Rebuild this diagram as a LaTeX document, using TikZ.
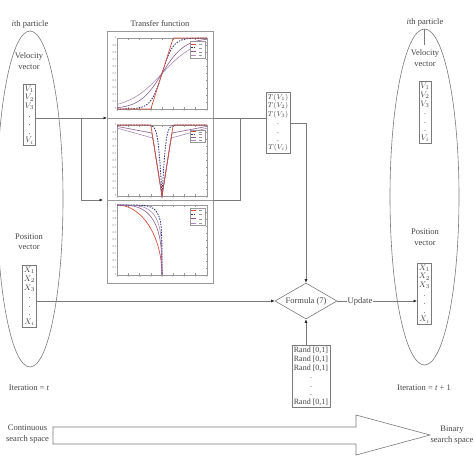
\documentclass[tikz,border=0pt]{standalone}
\usepackage{fontspec}
\setmainfont{Liberation Serif}
\usetikzlibrary{shapes.geometric,arrows.meta}
\definecolor{txtc}{HTML}{454545}
\definecolor{linec}{HTML}{7A7A7A}
\definecolor{framec}{HTML}{9A9A9A}
\definecolor{redc}{HTML}{D4503E}
\definecolor{bluec}{HTML}{2B2F7A}
\definecolor{purc}{HTML}{8A5C8E}
\definecolor{lavc}{HTML}{A98BB8}
\newcommand\tfaxes{%
  \draw[axc] (-8,0) rectangle (8,1);
  \foreach \t in {-8,-6,...,8} {
    \draw[axc] (\t,0) -- ++(0,0.025) (\t,1) -- ++(0,-0.025);
    \node[tick,below] at (\t,0) {\t};}
  \foreach \k/\l in {0/0,1/0.1,2/0.2,3/0.3,4/0.4,5/0.5,6/0.6,7/0.7,8/0.8,9/0.9,10/1} {
    \draw[axc] ({-8},{\k/10}) -- ++(0.15,0) ({8},{\k/10}) -- ++(-0.15,0);
    \node[tick,left] at ({-8},{\k/10}) {\l};}
}
\newcommand\tflegend[2]{%
  \draw[axc,fill=white] (5,#1) rectangle (7.7,#2);
  \foreach \j/\s in {0/rc,1/bc,2/pc,3/lc} {
    \draw[\s] ({5.2},{#1-(\j+0.6)*(#1-#2)/4.2}) -- ++(0.9,0);
    \draw[axc,line width=0.2pt] ({6.6},{#1-(\j+0.6)*(#1-#2)/4.2}) -- ++(0.5,0);}
}
\begin{document}
\begin{tikzpicture}[x=1pt,y=-1pt,
  lbl/.style={font=\fontsize{8.5}{10.5}\selectfont, text=txtc, align=center, inner sep=0pt},
  conn/.style={draw=linec, line width=0.6pt},
  arr/.style={conn, -{Latex[length=3.5pt,width=3pt,color=black!85]}},
  vecbox/.style={draw=linec, line width=0.6pt, text=txtc, align=center, inner sep=1.6pt, font=\fontsize{8}{8.6}\selectfont},
  frame/.style={draw=framec, line width=0.6pt},
  axc/.style={draw=gray!80, line width=0.35pt},
  tick/.style={font=\fontsize{3}{3.4}\selectfont, text=gray, inner sep=0.6pt},
  rc/.style={draw=redc, line width=0.7pt},
  bc/.style={draw=bluec, line width=0.8pt, dash pattern=on 1.5pt off 1.2pt},
  pc/.style={draw=purc, line width=0.6pt},
  lc/.style={draw=lavc, line width=0.6pt}]
\useasboundingbox (0,0) rectangle (474,474);
\fill[white] (0,0) rectangle (474,474);

% ellipses
\draw[conn] (30,199) ellipse [x radius=33pt, y radius=168pt];
\draw[conn] (424.5,197) ellipse [x radius=34.5pt, y radius=168pt];

% left side
\node[lbl] (pL) at (30,24) {\textit{i}th particle};
\node[lbl] (velL) at (29,61) {Velocity\\vector};
\node[vecbox] (VL) at (29.5,115) {$V_1$\\$V_2$\\$V_3$\\.\\.\\.\\$V_i$};
\node[lbl] (posL) at (29,241.5) {Position\\vector};
\node[vecbox] (XL) at (29.5,296.5) {$X_1$\\$X_2$\\$X_3$\\.\\.\\.\\$X_i$};
\node[lbl] (itL) at (29,388) {Iteration = \textit{t}};
\node[lbl] (csL) at (27.5,434) {Continuous\\search space};

% right side
\node[lbl] (pR) at (425,22) {\textit{i}th particle};
\coordinate (topR) at (424.5,29);
\coordinate (tickR) at (424.5,45);
\draw[conn] (topR) -- (tickR);
\node[lbl] (velR) at (425,58) {Velocity\\vector};
\node[vecbox] (VR) at (425,112.5) {$V_1$\\$V_2$\\$V_3$\\.\\.\\.\\$V_i$};
\node[lbl] (posR) at (425,237) {Position\\vector};
\node[vecbox] (XR) at (424.5,294) {$X_1$\\$X_2$\\$X_3$\\.\\.\\.\\$X_i$};
\node[lbl] (itR) at (424,388) {Iteration = \textit{t} + 1};
\node[lbl] (bsR) at (452,435) {Binary\\search space};

% transfer function plots
\node[lbl] (tf) at (160,24) {Transfer function};
\draw[frame] (107,31) rectangle (213,118);
\draw[frame] (107,118) rectangle (213,200);
\draw[frame] (107,200) rectangle (213,283);

\begin{scope}[xshift=162pt, yshift=-109pt, x=5.6pt, y=71pt]
  \tfaxes
  \draw[lc] plot[domain=-8:8, samples=50] (\x, {1/(1+exp(-\x/3))});
  \draw[pc] plot[domain=-8:8, samples=50] (\x, {1/(1+exp(-\x/2))});
  \draw[bc] plot[domain=-8:8, samples=60] (\x, {1/(1+exp(-\x))});
  \draw[rc] (-8,0) -- (-2,0) -- (2,1) -- (8,1);
  \tflegend{0.95}{0.72}
\end{scope}

\begin{scope}[xshift=162pt, yshift=-196pt, x=5.6pt, y=71pt]
  \tfaxes
  \draw[lc] plot[domain=-8:8, samples=81] (\x, {min(abs(\x)/2, 0.78+0.022*abs(\x))});
  \draw[pc] plot[domain=-8:8, samples=81] (\x, {min(abs(\x)/2, 0.86+0.015*abs(\x))});
  \draw[bc] plot[domain=-8:8, samples=81] (\x, {1-2/(1+exp(2.8*min(abs(\x),3)))});
  \draw[rc] (-8,1) -- (-2,1) -- (0,0) -- (2,1) -- (8,1);
  \tflegend{0.93}{0.76}
\end{scope}

\begin{scope}[xshift=162pt, yshift=-275pt, x=5.6pt, y=70pt]
  \tfaxes
  \draw[rc] plot[domain=-8:-0.02, samples=60] (\x, {sqrt(1-((\x+8)/8)^2)}) -- (0,0);
  \draw[pc] plot[domain=-8:-0.02, samples=60] (\x, {pow(1-pow((\x+8)/8,3),1/3)}) -- (0,0);
  \draw[lc] plot[domain=-8:-0.02, samples=60] (\x, {pow(1-pow((\x+8)/8,4),1/4)}) -- (0,0);
  \draw[bc] plot[domain=-8:-0.02, samples=60] (\x, {pow(1-pow((\x+8)/8,6),1/6)}) -- (0,0);
  \tflegend{0.96}{0.71}
\end{scope}

% connectors to/from plots
\coordinate (a1) at (107,118);
\coordinate (b1) at (81,118);
\coordinate (a2) at (103,200);
\draw[arr] (VL.east |- a1) -- (a1);
\draw[arr] (b1) |- (a2);

\node[vecbox, font=\fontsize{7.5}{8.4}\selectfont] (TV) at (278,123)
  {$T(V_1)$\\$T(V_2)$\\$T(V_3)$\\.\\.\\.\\$T(V_i)$};
\coordinate (r1) at (213,118);
\coordinate (r2) at (213,200);
\coordinate (r3) at (240,118);
\draw[conn] (r1) -- (TV.west |- r1);
\draw[conn] (r2) -| (r3);

% formula diamond
\node[diamond, draw=linec, line width=0.6pt, aspect=1.7, minimum width=62pt, minimum height=36pt,
      inner sep=0pt, font=\fontsize{8.5}{10}\selectfont, text=txtc] (F) at (306,301) {Formula (7)};
\draw[arr] (TV.east) -| (F.north);

\node[vecbox, font=\fontsize{8}{8.6}\selectfont, inner sep=2pt] (R) at (311,376.5)
  {Rand [0,1]\\Rand [0,1]\\Rand [0,1]\\.\\.\\.\\Rand [0,1]};
\draw[arr] (R.north -| F.south) -- (F.south);
\draw[arr] (XL.east |- F.west) -- (F.west);

\node[lbl, inner sep=1pt] (up) at (360,301) {Update};
\draw[conn] (F.east) -- (up.west);
\draw[arr] (up.east) -- (XR.west |- up.east);

% big arrow
\draw[conn] (53,427) -- (356,427) -- (356,415) -- (430,435) -- (356,455) -- (356,444) -- (53,444) -- cycle;
\end{tikzpicture}
\end{document}
